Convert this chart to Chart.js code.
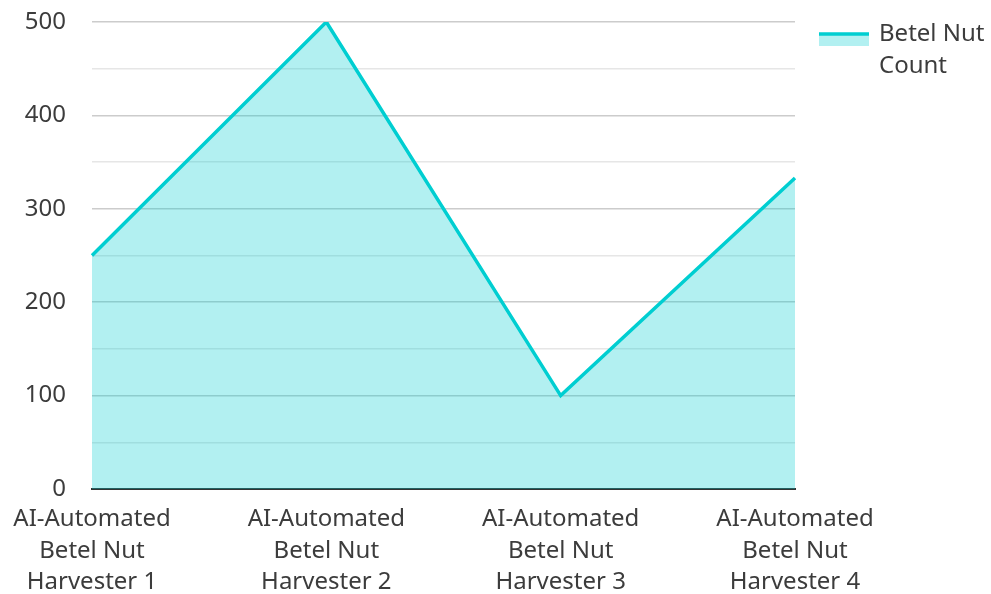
<!DOCTYPE html>
<html>
<head>
<meta charset="utf-8">
<script src="https://cdn.jsdelivr.net/npm/chart.js@4/dist/chart.umd.min.js"></script>
<style>
  html, body { margin: 0; padding: 0; background: #fff; }
  #wrap { width: 991px; height: 594px; }
</style>
</head>
<body>
<div id="wrap"><canvas id="c" width="991" height="594"></canvas></div>
<script>
// Harvester names (multi-line category labels)
const harvesters = [
  ['AI-Automated', 'Betel Nut', 'Harvester 1'],
  ['AI-Automated', 'Betel Nut', 'Harvester 2'],
  ['AI-Automated', 'Betel Nut', 'Harvester 3'],
  ['AI-Automated', 'Betel Nut', 'Harvester 4']
];
// Nut counts per harvester
const nutCounts = [250, 500, 100, 333];
const seriesName = 'Betel Nut Count';
const legendLines = ['Betel Nut', 'Count'];

const LINE = '#00CED1';
const FILL = 'rgba(0, 206, 209, 0.3)';
const TEXT = '#3c3c3c';
const FONT = '"Noto Sans", "Open Sans", sans-serif';

// Right-side legend with wrapped label text
const wrappedLegend = {
  id: 'wrappedLegend',
  afterDraw(chart) {
    const ctx = chart.ctx;
    ctx.save();
    const x0 = 819, w = 50;
    ctx.fillStyle = FILL;
    ctx.fillRect(x0, 34, w, 12);
    ctx.strokeStyle = LINE;
    ctx.lineWidth = 3.5;
    ctx.beginPath();
    ctx.moveTo(x0, 34);
    ctx.lineTo(x0 + w, 34);
    ctx.stroke();
    ctx.fillStyle = TEXT;
    ctx.font = '24px ' + FONT;
    ctx.textBaseline = 'middle';
    ctx.textAlign = 'left';
    legendLines.forEach((t, i) => ctx.fillText(t, 879, 34 + i * 32));
    ctx.restore();
  }
};

new Chart(document.getElementById('c'), {
  type: 'line',
  data: {
    labels: harvesters,
    datasets: [{
      label: seriesName,
      data: nutCounts,
      borderColor: LINE,
      backgroundColor: FILL,
      borderWidth: 3.5,
      fill: 'origin',
      tension: 0,
      pointRadius: 0,
      pointHoverRadius: 0
    }]
  },
  options: {
    responsive: false,
    animation: false,
    layout: { padding: { top: 0, right: 196, left: 0, bottom: 0 } },
    plugins: {
      legend: { display: false },
      tooltip: { enabled: false }
    },
    scales: {
      x: {
        offset: false,
        grid: { display: false, drawTicks: false },
        border: { display: true, color: '#333333', width: 2 },
        ticks: {
          color: TEXT,
          font: { family: FONT, size: 24, lineHeight: 1.3 },
          padding: 15,
          maxRotation: 0,
          autoSkip: false
        },
        afterFit(s) {
          s.height = 105;
          s.paddingLeft = 0;
          s.paddingRight = 0;
        }
      },
      y: {
        min: 0,
        max: 500,
        border: { display: false },
        grid: {
          drawTicks: false,
          color: c => c.tick.value === 0 ? 'rgba(0,0,0,0)' : (c.tick.value % 100 === 0 ? '#cccccc' : '#e6e6e6'),
          lineWidth: 1.5
        },
        ticks: {
          stepSize: 50,
          color: TEXT,
          font: { family: FONT, size: 24 },
          padding: 26,
          callback: v => (v % 100 === 0 ? v : '')
        },
        afterFit(s) {
          s.width = 92;
          s.paddingTop = 22;
          s.paddingBottom = 0;
        }
      }
    }
  },
  plugins: [wrappedLegend]
});
</script>
</body>
</html>
